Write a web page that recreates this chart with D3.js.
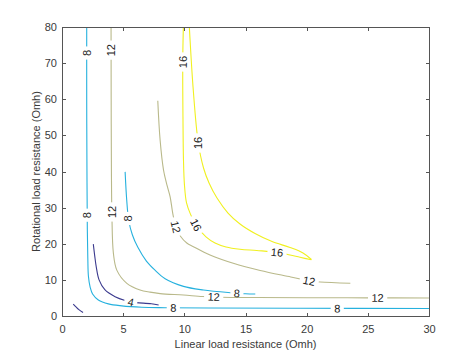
<!DOCTYPE html>
<html><head><meta charset="utf-8">
<script src="https://cdn.jsdelivr.net/npm/d3@7"></script>
<style>body{margin:0;background:#fff}svg{display:block}</style>
</head><body><svg id="chart" width="474" height="355"></svg>
<script>
// ---- data ----
const xTickValues = [0, 5, 10, 15, 20, 25, 30];
const yTickValues = [0, 10, 20, 30, 40, 50, 60, 70, 80];
const xLabelText = "Linear load resistance (Omh)";
const yLabelText = "Rotational load resistance (Omh)";
const contourLevels = [4, 8, 12, 16];
const levelColors = ["#3b3a8e", "#26b1de", "#b9b98a", "#f0f020"];

// traced contour lines [x, y]
const line4a = [[0.92,3.3],[1.12,2.6],[1.38,1.75],[1.72,0.95]];
const line4b = [[2.56,19.9],[2.68,16.5],[2.8,13.6],[3.03,10.0],[3.5,7.3],[4.34,5.35],[5.16,4.3],[5.7,3.9],[6.1,3.7],[7.3,3.4],[7.9,3.05]];
const line8a = [[2.02,80],[2.02,60],[2.04,40],[2.07,24],[2.11,16],[2.16,11],[2.3,8],[2.5,6.1],[2.97,4.45],[3.79,3.35],[4.89,2.8],[6.52,2.42],[8.43,2.3],[12,2.2],[19.5,2.13],[30,2.08]];
const line8b = [[5.16,39.9],[5.29,32.1],[5.45,26.5],[5.75,22.5],[6.2,19],[6.9,15.2],[7.6,12.7],[8.43,10.3],[9.93,8.2],[11.56,7.2],[13.75,6.45],[15.0,6.15],[15.8,6.1]];
const line12a = [[4.01,80],[4.02,60],[4.04,40],[4.08,28],[4.2,17.4],[4.48,12.7],[5.3,9.05],[6.38,7.2],[7.2,6.6],[8.02,6.2],[9.93,5.8],[11.5,5.4],[13,5.2],[16,5.12],[20,5.07],[25,5.03],[30,5.0]];
const line12b = [[7.83,59.6],[8.02,48.7],[8.3,40.4],[8.6,36],[8.84,33],[9.05,28.5],[9.3,24.7],[9.7,22.0],[10.2,20.2],[10.74,19.2],[12.1,16.9],[14.0,14.6],[16.2,12.6],[18.7,10.8],[19.5,10.2],[20.2,9.7],[21.1,9.4],[23.57,9.05]];
const line16a = [[9.92,80],[9.87,70.3],[9.89,54.3],[9.93,43.2],[10.01,36.3],[10.18,31.3],[10.5,28.2],[10.95,25.2],[11.77,21.9],[12.51,20.2],[13.41,19.1],[14.55,18.46],[15.92,18.13],[17.58,17.63],[18.64,16.89],[19.46,16.25],[20.39,15.56]];
const line16b = [[10.41,80],[10.73,62.56],[11.14,47.89],[11.57,40.97],[12.02,36.82],[12.67,32.66],[13.57,28.51],[14.55,25.47],[15.78,22.84],[17.17,20.62],[18.64,18.96],[19.7,17.44],[20.39,15.64]];

// contour label anchor points [x, y]
const labels4a = [];
const labels4b = [[5.62,3.9]];
const labels8a = [[2.02,72.8],[2.05,27.9],[9.1,2.25],[22.5,2.1]];
const labels8b = [[5.38,27.0],[14.3,6.3]];
const labels12a = [[4.01,73.6],[4.06,28.8],[12.4,5.3],[25.8,5.03]];
const labels12b = [[9.3,24.7],[20.2,9.7]];
const labels16a = [[9.88,70.3],[10.95,25.2],[17.58,17.63]];
const labels16b = [[11.14,47.89]];

const contours = [
  {level:4, pts:line4a, labels:labels4a},
  {level:4, pts:line4b, labels:labels4b},
  {level:8, pts:line8a, labels:labels8a},
  {level:8, pts:line8b, labels:labels8b},
  {level:12, pts:line12a, labels:labels12a},
  {level:12, pts:line12b, labels:labels12b},
  {level:16, pts:line16a, labels:labels16a},
  {level:16, pts:line16b, labels:labels16b}
];

// ---- drawing ----
const W = 474, H = 355;
const svg = d3.select("#chart");
const font = "'Liberation Sans', Arial, Helvetica, sans-serif";
const x = d3.scaleLinear().domain([0,30]).range([62,429]);
const y = d3.scaleLinear().domain([0,80]).range([316,27]);
const color = d3.scaleOrdinal().domain(contourLevels).range(levelColors);
const axisColor = "#555";
const textColor = "#3a3a3a";

const lineGen = d3.line().x(d=>x(d[0])).y(d=>y(d[1])).curve(d3.curveCatmullRom.alpha(0.5));

const defs = svg.append("defs");
defs.append("clipPath").attr("id","plotclip").append("rect")
  .attr("x",x(0)).attr("y",y(80)).attr("width",x(30)-x(0)).attr("height",y(0)-y(80));

const meas = svg.append("text").attr("font-family",font).attr("font-size","11px");
function textW(s){ meas.text(s); return meas.node().getComputedTextLength(); }

function labelAngle(pts, lx, ly){
  let best=Infinity, ang=0;
  for(let i=0;i<pts.length-1;i++){
    const x1=x(pts[i][0]), y1=y(pts[i][1]), x2=x(pts[i+1][0]), y2=y(pts[i+1][1]);
    const dx=x2-x1, dy=y2-y1, L=dx*dx+dy*dy;
    let t = L>0 ? ((lx-x1)*dx+(ly-y1)*dy)/L : 0; t=Math.max(0,Math.min(1,t));
    const px=x1+t*dx, py=y1+t*dy, d=(px-lx)**2+(py-ly)**2;
    if(d<best){best=d; ang=Math.atan2(dy,dx)*180/Math.PI;}
  }
  while(ang>90) ang-=180;
  while(ang<=-90) ang+=180;
  if(ang>84) ang=-90;
  return ang;
}

const gLines = svg.append("g").attr("clip-path","url(#plotclip)");
const gLabels = svg.append("g");

contours.forEach((c,i)=>{
  const mask = defs.append("mask").attr("id","mask"+i).attr("maskUnits","userSpaceOnUse")
    .attr("x",0).attr("y",0).attr("width",W).attr("height",H);
  mask.append("rect").attr("width",W).attr("height",H).attr("fill","white");
  const txt = String(c.level);
  const tw = textW(txt);
  c.labels.forEach(l=>{
    const lx=x(l[0]), ly=y(l[1]);
    const a = labelAngle(c.pts, lx, ly);
    mask.append("rect").attr("x",-tw/2-3.5).attr("y",-5).attr("width",tw+7).attr("height",10)
      .attr("fill","black").attr("transform",`translate(${lx},${ly}) rotate(${a})`);
    gLabels.append("text").attr("transform",`translate(${lx},${ly}) rotate(${a})`)
      .attr("text-anchor","middle").attr("dy","0.36em")
      .attr("font-family",font).attr("font-size","11px").attr("fill","#222")
      .text(txt);
  });
  gLines.append("path").attr("d",lineGen(c.pts)).attr("fill","none")
    .attr("stroke",color(c.level)).attr("stroke-width",1.1)
    .attr("mask","url(#mask"+i+")");
});
meas.remove();

function styleAxis(g){
  g.selectAll("path,line").attr("stroke",axisColor).attr("shape-rendering","crispEdges");
  g.selectAll("text").attr("fill",textColor).attr("font-family",font).attr("font-size","11px");
}
svg.append("g").attr("transform",`translate(0,${y(0)})`)
  .call(d3.axisBottom(x).tickValues(xTickValues).tickSizeInner(-3.5).tickSizeOuter(0).tickPadding(8.7))
  .call(styleAxis);
svg.append("g").attr("transform",`translate(0,${y(80)})`)
  .call(d3.axisTop(x).tickValues(xTickValues).tickSizeInner(-3.5).tickSizeOuter(0).tickFormat(""))
  .call(styleAxis);
svg.append("g").attr("transform",`translate(${x(0)},0)`)
  .call(d3.axisLeft(y).tickValues(yTickValues).tickSizeInner(-3.5).tickSizeOuter(0).tickPadding(5))
  .call(styleAxis);
svg.append("g").attr("transform",`translate(${x(30)},0)`)
  .call(d3.axisRight(y).tickValues(yTickValues).tickSizeInner(-3.5).tickSizeOuter(0).tickFormat(""))
  .call(styleAxis);

svg.append("text").attr("x",(x(0)+x(30))/2).attr("y",347.5).attr("text-anchor","middle")
  .attr("font-family",font).attr("font-size","11px").attr("fill",textColor).text(xLabelText);
svg.append("text").attr("transform",`translate(39.8,${(y(0)+y(80))/2}) rotate(-90)`).attr("text-anchor","middle")
  .attr("font-family",font).attr("font-size","11px").attr("fill",textColor).text(yLabelText);
</script></body></html>
